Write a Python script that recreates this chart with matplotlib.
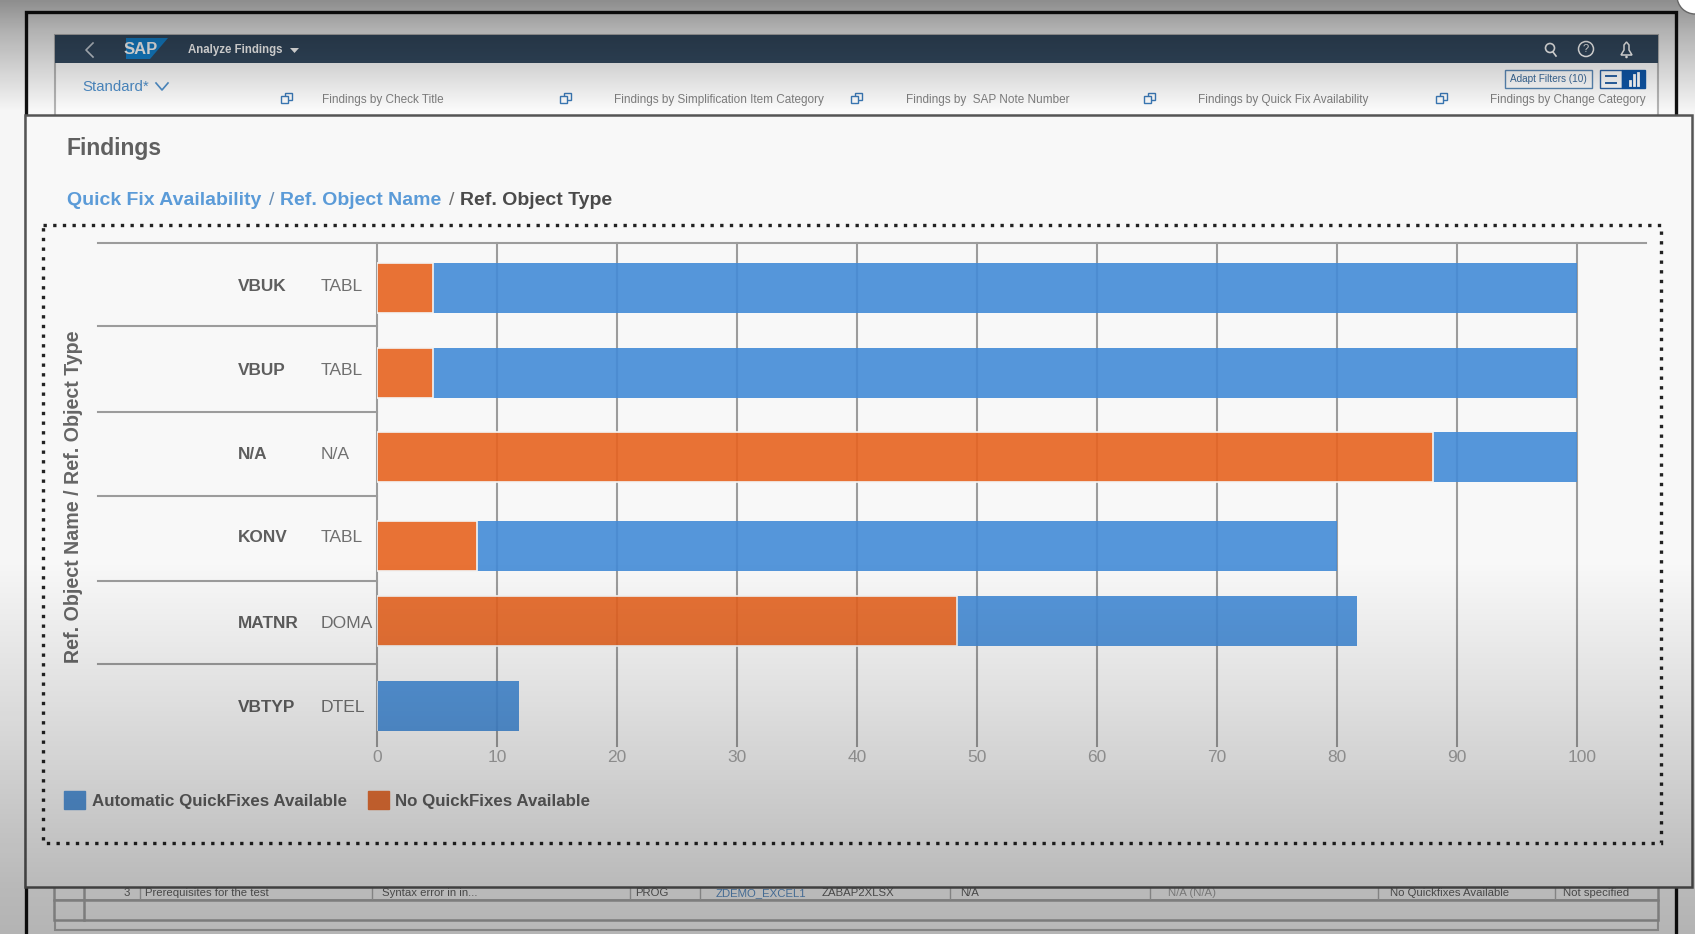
import numpy as np
import matplotlib
matplotlib.use("Agg")
import matplotlib.pyplot as plt
from matplotlib.patches import Rectangle, Circle, Polygon, Patch
from matplotlib.transforms import ScaledTranslation

plt.rcParams['font.family'] = ['Liberation Sans', 'DejaVu Sans']

# ---- data ----
object_names = ["VBUK", "VBUP", "N/A", "KONV", "MATNR", "VBTYP"]
object_types = ["TABL", "TABL", "N/A", "TABL", "DOMA", "DTEL"]
no_quickfix = [4.7, 4.7, 88.0, 8.3, 48.3, 0.0]
auto_quickfix = [95.3, 95.3, 12.0, 71.7, 33.4, 11.8]
x_ticks = [0, 10, 20, 30, 40, 50, 60, 70, 80, 90, 100]
series_labels = ["Automatic QuickFixes Available", "No QuickFixes Available"]
filter_titles = ["Findings by Check Title", "Findings by Simplification Item Category",
                 "Findings by  SAP Note Number", "Findings by Quick Fix Availability",
                 "Findings by Change Category"]
table_row = ["3", "Prerequisites for the test", "Syntax error in in...", "PROG", "ZDEMO_EXCEL1",
             "ZABAP2XLSX", "N/A", "N/A (N/A)", "No Quickfixes Available", "Not specified"]

# ---- layout (pixels of the 1695x934 frame) ----
W, H = 1695, 934
bar_centres = [287.7, 373, 457, 546, 621, 706]
label_centres = [286.7, 370.5, 454.5, 538, 623.5, 708]
separators = [326, 411.7, 495.7, 580.5, 664]
filter_x = [322, 614, 905.5, 1197.5, 1490]
icon_x = [286, 565, 856, 1149, 1441]
table_x = [130, 145, 382, 635, 716, 822, 960, 1168, 1390, 1563]
table_ha = ['right'] + ['left'] * 9
table_lines = [85, 140, 372, 630, 700, 950, 1150, 1378, 1555]
BLUE, ORANGE, GRID = "#5596da", "#e97236", "#9c9c9c"
BLUE_FILL, ORANGE_FILL = (0.263, 0.545, 0.843, 0.9), (0.906, 0.388, 0.125, 0.9)
TXT = "#5e5e5e"

fig = plt.figure(figsize=(W / 100, H / 100), dpi=100, facecolor="#f6f6f6")


def px_axes(x0, y0, x1, y1, **kw):
    return fig.add_axes([x0 / W, 1 - y1 / H, (x1 - x0) / W, (y1 - y0) / H], **kw)


# ---- screenshot surroundings ----
bg = px_axes(0, 0, W, H, zorder=0)
bg.set_xlim(0, W)
bg.set_ylim(H, 0)
bg.axis("off")
bg.add_patch(Rectangle((26, 12), 1650, 930, fc="#f8f8f8", ec="#111111", lw=2.4, zorder=1))
bg.add_patch(Rectangle((55, 35), 1603, 895, fc="#fbfbfb", ec="#b5b5b5", lw=1.5, zorder=2))
bg.add_patch(Rectangle((55, 35), 1603, 28, fc="#33495f", ec="none", zorder=3))
bg.plot([93, 86, 93], [43, 50, 57], color="#c5cdd5", lw=1.2, zorder=4)
bg.add_patch(Polygon([[126, 38], [168, 38], [150, 59], [126, 59]], fc="#1583cf", ec="none", zorder=4))
bg.text(141, 49.5, "SAP", color="white", fontsize=12, fontweight="bold", ha="center", va="center", zorder=5)
bg.text(188, 50, "Analyze Findings", color="white", fontsize=8.3, fontweight="bold", va="center", zorder=5)
bg.add_patch(Polygon([[290, 48], [299, 48], [294.5, 53]], fc="white", ec="none", zorder=5))
# header icons
bg.add_patch(Circle((1550, 48), 4.5, fc="none", ec="white", lw=1.2, zorder=5))
bg.plot([1553, 1556], [52, 56], color="white", lw=1.2, zorder=5)
bg.add_patch(Circle((1586, 49), 7.5, fc="none", ec="white", lw=1.1, zorder=5))
bg.text(1586, 49, "?", color="white", fontsize=8, ha="center", va="center", zorder=5)
bg.add_patch(Polygon([[1621, 55], [1624, 50], [1624, 45], [1626.5, 42], [1629, 45], [1629, 50], [1632, 55]],
                     fc="none", ec="white", lw=1.1, zorder=5))
bg.add_patch(Circle((1626.5, 57), 1.3, fc="white", ec="none", zorder=5))
# variant + filter row
bg.text(82, 87, "Standard*", color="#4f8fca", fontsize=10.8, va="center", zorder=5)
bg.plot([156, 162, 168], [83, 90, 83], color="#4f8fca", lw=1.2, zorder=5)
for tx, title in zip(filter_x, filter_titles):
    bg.text(tx, 99.5, title, color="#808080", fontsize=8.45, va="center", zorder=5)
for ix in icon_x:
    bg.add_patch(Rectangle((ix - 1, 93), 7, 7, fc="none", ec="#3a78b5", lw=1, zorder=5))
    bg.add_patch(Rectangle((ix - 5, 96), 7, 7, fc="#fbfbfb", ec="#3a78b5", lw=1, zorder=5))
bg.add_patch(Rectangle((1505, 70), 87, 18, fc="#fdfdfd", ec="#5a88b5", lw=1, zorder=5))
bg.text(1548.5, 79.5, "Adapt Filters (10)", color="#3a6a9a", fontsize=7.2, ha="center", va="center", zorder=6)
bg.add_patch(Rectangle((1600, 70), 22, 18, fc="#fdfdfd", ec="#2a62a5", lw=1, zorder=5))
bg.add_patch(Rectangle((1622, 70), 23, 18, fc="#0f55a5", ec="#0f55a5", lw=1, zorder=5))
for yy in (76, 83):
    bg.plot([1606, 1616], [yy, yy], color="#2a62a5", lw=1.4, zorder=6)
for xx, top in zip((1630, 1634, 1638), (81, 75, 73)):
    bg.plot([xx, xx], [85, top], color="white", lw=2, zorder=6)
# table behind the pop-up
bg.add_patch(Rectangle((54, 880), 1604, 20, fc="#f8f8f8", ec="#a8a8a8", lw=1.8, zorder=3))
bg.add_patch(Rectangle((54, 900), 1604, 20, fc="#f8f8f8", ec="#a8a8a8", lw=1.8, zorder=3))
bg.plot([84, 84], [880, 920], color="#a8a8a8", lw=1.8, zorder=4)
for lx in table_lines[1:]:
    bg.plot([lx, lx], [880, 899], color="#b0b0b0", lw=1, zorder=4)
for tx, s, ha in zip(table_x, table_row, table_ha):
    col = "#5c8fc5" if s == "ZDEMO_EXCEL1" else ("#a0a0a0" if s == "N/A (N/A)" else "#606060")
    bg.text(tx, 893, s, color=col, fontsize=8.2, ha=ha, va="center", zorder=5)
# pop-up panel
bg.add_patch(Rectangle((25, 115), 1667, 772, fc="#f8f8f8", ec="#555555", lw=1.8, zorder=8))
bg.add_patch(Rectangle((43, 225), 1618, 618, fc="none", ec="#222222", lw=2.4,
                       ls=(0, (1, 1.9)), zorder=9))
bg.text(67, 148, "Findings", color="#606060", fontsize=16.5, fontweight="bold", va="center", zorder=9)
crumbs = [(67, "Quick Fix Availability", "#5b9bd8", "bold"), (269, "/", "#6a8fb5", "normal"),
          (280, "Ref. Object Name", "#5b9bd8", "bold"), (449, "/", "#707070", "normal"),
          (460, "Ref. Object Type", "#4a4a4a", "bold")]
for cx, s, col, wt in crumbs:
    bg.text(cx, 200.5, s, color=col, fontsize=14, fontweight=wt, va="center", zorder=9)
bg.text(74, 497, "Ref. Object Name / Ref. Object Type", color="#666666", fontsize=14.1, fontweight="bold",
        rotation=90, ha="center", va="center", zorder=9)
bg.plot([98, 1646], [243.3, 243.3], color=GRID, lw=1.5, zorder=9)
for sy in separators:
    bg.plot([98, 377], [sy, sy], color=GRID, lw=1.5, zorder=9)

# ---- chart ----
ax = px_axes(377, 243, 1646, 746, zorder=10)
ax.patch.set_alpha(0)
ax.set_xlim(0, (1646 - 377) / 12.0)
ax.set_ylim(746, 243)
for sp in ax.spines.values():
    sp.set_visible(False)
ax.set_axisbelow(True)
ax.grid(axis="x", color=GRID, lw=1.5)
ax.set_xticks(x_ticks)
ax.tick_params(axis="x", length=0, pad=3, labelsize=12.5, labelcolor="#a4a4a4")
for gl in ax.get_xgridlines():
    gl.set_clip_on(False)
ax.set_yticks(bar_centres)
ax.set_yticklabels([])
ax.tick_params(axis="y", length=0)
ax.barh(bar_centres, auto_quickfix, left=no_quickfix, height=50, color=BLUE_FILL, lw=0, zorder=2)
ax.barh(bar_centres, no_quickfix, height=50, color=ORANGE_FILL, lw=1.2, edgecolor="#f4f4f4", zorder=3)
last = ax.get_xticklabels()[-1]
last.set_transform(last.get_transform() + ScaledTranslation(5 / 100, 0, fig.dpi_scale_trans))
for yc, name, typ in zip(label_centres, object_names, object_types):
    ax.annotate(name, (0, yc), xytext=(-139, 0), textcoords="offset pixels", xycoords=("data", "data"),
                color=TXT, fontsize=12.4, fontweight="bold", va="center", ha="left")
    ax.annotate(typ, (0, yc), xytext=(-56, 0), textcoords="offset pixels", xycoords=("data", "data"),
                color="#707070", fontsize=12.6, va="center", ha="left")
fig.legend([Patch(color=BLUE), Patch(color=ORANGE)], series_labels, loc="center left",
           bbox_to_anchor=(49 / W, 1 - 800 / H), bbox_transform=fig.transFigure, ncols=2, frameon=False,
           labelcolor=TXT, prop={"weight": "bold", "size": 12.2},
           handlelength=1.25, handleheight=1.3, handletextpad=0.4, columnspacing=1.2)

# ---- video shading over the whole frame ----
ov = px_axes(0, 0, W, H, zorder=20)
ov.axis("off")
yy = np.linspace(0, H, 300)
a = np.interp(yy, [0, 30, 110, 560, 700, 887, 934], [0.42, 0.28, 0.0, 0.0, 0.10, 0.25, 0.27])
rgba = np.zeros((300, 1, 4))
rgba[..., 3] = a[:, None]
ov.imshow(rgba, aspect="auto", extent=(0, W, H, 0), interpolation="bilinear")
ov.add_patch(Circle((1695, -4), 18, fc="white", ec="#666666", lw=1))
ov.set_xlim(0, W)
ov.set_ylim(H, 0)

fig.savefig("out.png", dpi=100, facecolor=fig.get_facecolor())
